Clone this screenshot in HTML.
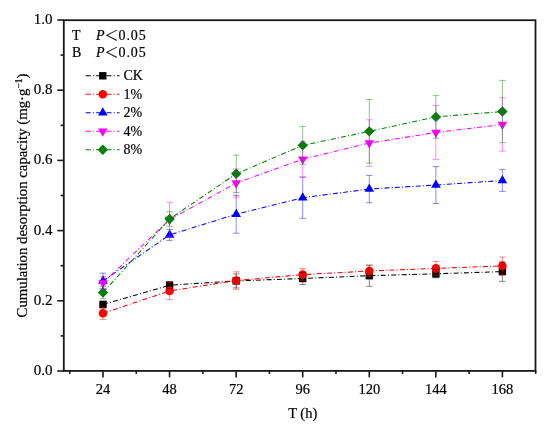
<!DOCTYPE html>
<html><head><meta charset="utf-8"><title>Cumulation desorption capacity</title>
<style>
html,body{margin:0;padding:0;background:#fff;}
body{width:550px;height:434px;overflow:hidden;}
svg{display:block;}
text{font-family:"Liberation Serif","Times New Roman",serif;fill:#000;font-size:15px;stroke:#000;stroke-width:0.2px;}
.xl{font-size:14.5px;}
.lg{font-size:14px;}
.pt{font-size:14px;}
.ti{font-size:14.5px;}
.yt{font-size:14.8px;}
</style></head>
<body>
<svg width="550" height="434" viewBox="0 0 550 434">
<rect width="550" height="434" fill="#fff"/>
<polyline points="103.00,304.50 169.60,285.20 236.20,280.90 302.70,278.50 369.30,275.70 435.90,273.80 502.40,271.60" stroke="#000000" stroke-width="1.05" stroke-dasharray="5 2.2 1 2.2" fill="none"/>
<polyline points="103.00,313.30 169.60,290.90 236.20,280.55 302.70,274.60 369.30,271.00 435.90,268.40 502.40,265.90" stroke="#ff0000" stroke-width="1.05" stroke-dasharray="5 2.2 1 2.2" fill="none"/>
<polyline points="103.00,280.90 169.60,234.90 236.20,214.25 302.70,197.70 369.30,189.05 435.90,185.05 502.40,180.50" stroke="#0000ff" stroke-width="1.05" stroke-dasharray="5 2.2 1 2.2" fill="none"/>
<polyline points="103.00,282.90 169.60,219.60 236.20,183.10 302.70,159.20 369.30,143.05 435.90,132.50 502.40,124.45" stroke="#ff00ff" stroke-width="1.05" stroke-dasharray="5 2.2 1 2.2" fill="none"/>
<polyline points="103.00,292.60 169.60,219.00 236.20,173.80 302.70,145.35 369.30,131.35 435.90,116.90 502.40,111.55" stroke="#008000" stroke-width="1.05" stroke-dasharray="5 2.2 1 2.2" fill="none"/>
<rect x="99.30" y="300.80" width="7.4" height="7.4" fill="#000000"/>
<rect x="165.90" y="281.50" width="7.4" height="7.4" fill="#000000"/>
<rect x="232.50" y="277.20" width="7.4" height="7.4" fill="#000000"/>
<rect x="299.00" y="274.80" width="7.4" height="7.4" fill="#000000"/>
<rect x="365.60" y="272.00" width="7.4" height="7.4" fill="#000000"/>
<rect x="432.20" y="270.10" width="7.4" height="7.4" fill="#000000"/>
<rect x="498.70" y="267.90" width="7.4" height="7.4" fill="#000000"/>
<circle cx="103.00" cy="313.30" r="4.3" fill="#ff0000"/>
<circle cx="169.60" cy="290.90" r="4.3" fill="#ff0000"/>
<circle cx="236.20" cy="280.55" r="4.3" fill="#ff0000"/>
<circle cx="302.70" cy="274.60" r="4.3" fill="#ff0000"/>
<circle cx="369.30" cy="271.00" r="4.3" fill="#ff0000"/>
<circle cx="435.90" cy="268.40" r="4.3" fill="#ff0000"/>
<circle cx="502.40" cy="265.90" r="4.3" fill="#ff0000"/>
<polygon points="103.00,275.37 107.80,283.67 98.20,283.67" fill="#0000ff"/>
<polygon points="169.60,229.37 174.40,237.67 164.80,237.67" fill="#0000ff"/>
<polygon points="236.20,208.72 241.00,217.02 231.40,217.02" fill="#0000ff"/>
<polygon points="302.70,192.17 307.50,200.47 297.90,200.47" fill="#0000ff"/>
<polygon points="369.30,183.52 374.10,191.82 364.50,191.82" fill="#0000ff"/>
<polygon points="435.90,179.52 440.70,187.82 431.10,187.82" fill="#0000ff"/>
<polygon points="502.40,174.97 507.20,183.27 497.60,183.27" fill="#0000ff"/>
<polygon points="98.20,280.13 107.80,280.13 103.00,288.43" fill="#ff00ff"/>
<polygon points="164.80,216.83 174.40,216.83 169.60,225.13" fill="#ff00ff"/>
<polygon points="231.40,180.33 241.00,180.33 236.20,188.63" fill="#ff00ff"/>
<polygon points="297.90,156.43 307.50,156.43 302.70,164.73" fill="#ff00ff"/>
<polygon points="364.50,140.28 374.10,140.28 369.30,148.58" fill="#ff00ff"/>
<polygon points="431.10,129.73 440.70,129.73 435.90,138.03" fill="#ff00ff"/>
<polygon points="497.60,121.68 507.20,121.68 502.40,129.98" fill="#ff00ff"/>
<polygon points="103.00,287.40 108.20,292.60 103.00,297.80 97.80,292.60" fill="#008000"/>
<polygon points="169.60,213.80 174.80,219.00 169.60,224.20 164.40,219.00" fill="#008000"/>
<polygon points="236.20,168.60 241.40,173.80 236.20,179.00 231.00,173.80" fill="#008000"/>
<polygon points="302.70,140.15 307.90,145.35 302.70,150.55 297.50,145.35" fill="#008000"/>
<polygon points="369.30,126.15 374.50,131.35 369.30,136.55 364.10,131.35" fill="#008000"/>
<polygon points="435.90,111.70 441.10,116.90 435.90,122.10 430.70,116.90" fill="#008000"/>
<polygon points="502.40,106.35 507.60,111.55 502.40,116.75 497.20,111.55" fill="#008000"/>
<path d="M103.00 301.00V308.00M99.70 301.00H106.30M99.70 308.00H106.30" stroke="#000000" stroke-opacity="0.45" stroke-width="1" fill="none"/>
<path d="M169.60 281.70V288.70M166.30 281.70H172.90M166.30 288.70H172.90" stroke="#000000" stroke-opacity="0.45" stroke-width="1" fill="none"/>
<path d="M236.20 273.90V287.90M232.90 273.90H239.50M232.90 287.90H239.50" stroke="#000000" stroke-opacity="0.45" stroke-width="1" fill="none"/>
<path d="M302.70 272.50V284.50M299.40 272.50H306.00M299.40 284.50H306.00" stroke="#000000" stroke-opacity="0.45" stroke-width="1" fill="none"/>
<path d="M369.30 265.10V286.30M366.00 265.10H372.60M366.00 286.30H372.60" stroke="#000000" stroke-opacity="0.45" stroke-width="1" fill="none"/>
<path d="M435.90 269.80V277.80M432.60 269.80H439.20M432.60 277.80H439.20" stroke="#000000" stroke-opacity="0.45" stroke-width="1" fill="none"/>
<path d="M502.40 261.90V281.30M499.10 261.90H505.70M499.10 281.30H505.70" stroke="#000000" stroke-opacity="0.45" stroke-width="1" fill="none"/>
<path d="M103.00 307.30V319.30M99.70 307.30H106.30M99.70 319.30H106.30" stroke="#ff0000" stroke-opacity="0.45" stroke-width="1" fill="none"/>
<path d="M169.60 282.20V299.60M166.30 282.20H172.90M166.30 299.60H172.90" stroke="#ff0000" stroke-opacity="0.45" stroke-width="1" fill="none"/>
<path d="M236.20 271.80V289.30M232.90 271.80H239.50M232.90 289.30H239.50" stroke="#ff0000" stroke-opacity="0.45" stroke-width="1" fill="none"/>
<path d="M302.70 268.60V280.60M299.40 268.60H306.00M299.40 280.60H306.00" stroke="#ff0000" stroke-opacity="0.45" stroke-width="1" fill="none"/>
<path d="M369.30 265.30V276.70M366.00 265.30H372.60M366.00 276.70H372.60" stroke="#ff0000" stroke-opacity="0.45" stroke-width="1" fill="none"/>
<path d="M435.90 261.50V275.30M432.60 261.50H439.20M432.60 275.30H439.20" stroke="#ff0000" stroke-opacity="0.45" stroke-width="1" fill="none"/>
<path d="M502.40 257.00V274.80M499.10 257.00H505.70M499.10 274.80H505.70" stroke="#ff0000" stroke-opacity="0.45" stroke-width="1" fill="none"/>
<path d="M103.00 273.10V288.70M99.70 273.10H106.30M99.70 288.70H106.30" stroke="#0000ff" stroke-opacity="0.45" stroke-width="1" fill="none"/>
<path d="M169.60 229.40V240.40M166.30 229.40H172.90M166.30 240.40H172.90" stroke="#0000ff" stroke-opacity="0.45" stroke-width="1" fill="none"/>
<path d="M236.20 195.25V233.25M232.90 195.25H239.50M232.90 233.25H239.50" stroke="#0000ff" stroke-opacity="0.45" stroke-width="1" fill="none"/>
<path d="M302.70 177.10V218.30M299.40 177.10H306.00M299.40 218.30H306.00" stroke="#0000ff" stroke-opacity="0.45" stroke-width="1" fill="none"/>
<path d="M369.30 175.40V202.70M366.00 175.40H372.60M366.00 202.70H372.60" stroke="#0000ff" stroke-opacity="0.45" stroke-width="1" fill="none"/>
<path d="M435.90 166.60V203.50M432.60 166.60H439.20M432.60 203.50H439.20" stroke="#0000ff" stroke-opacity="0.45" stroke-width="1" fill="none"/>
<path d="M502.40 169.60V191.40M499.10 169.60H505.70M499.10 191.40H505.70" stroke="#0000ff" stroke-opacity="0.45" stroke-width="1" fill="none"/>
<path d="M103.00 276.50V289.30M99.70 276.50H106.30M99.70 289.30H106.30" stroke="#ff00ff" stroke-opacity="0.45" stroke-width="1" fill="none"/>
<path d="M169.60 202.30V236.90M166.30 202.30H172.90M166.30 236.90H172.90" stroke="#ff00ff" stroke-opacity="0.45" stroke-width="1" fill="none"/>
<path d="M236.20 169.00V197.20M232.90 169.00H239.50M232.90 197.20H239.50" stroke="#ff00ff" stroke-opacity="0.45" stroke-width="1" fill="none"/>
<path d="M302.70 141.30V177.10M299.40 141.30H306.00M299.40 177.10H306.00" stroke="#ff00ff" stroke-opacity="0.45" stroke-width="1" fill="none"/>
<path d="M369.30 119.80V166.30M366.00 119.80H372.60M366.00 166.30H372.60" stroke="#ff00ff" stroke-opacity="0.45" stroke-width="1" fill="none"/>
<path d="M435.90 105.40V159.60M432.60 105.40H439.20M432.60 159.60H439.20" stroke="#ff00ff" stroke-opacity="0.45" stroke-width="1" fill="none"/>
<path d="M502.40 97.70V151.20M499.10 97.70H505.70M499.10 151.20H505.70" stroke="#ff00ff" stroke-opacity="0.45" stroke-width="1" fill="none"/>
<path d="M103.00 286.60V298.60M99.70 286.60H106.30M99.70 298.60H106.30" stroke="#008000" stroke-opacity="0.45" stroke-width="1" fill="none"/>
<path d="M169.60 211.75V226.25M166.30 211.75H172.90M166.30 226.25H172.90" stroke="#008000" stroke-opacity="0.45" stroke-width="1" fill="none"/>
<path d="M236.20 155.10V192.50M232.90 155.10H239.50M232.90 192.50H239.50" stroke="#008000" stroke-opacity="0.45" stroke-width="1" fill="none"/>
<path d="M302.70 126.35V164.35M299.40 126.35H306.00M299.40 164.35H306.00" stroke="#008000" stroke-opacity="0.45" stroke-width="1" fill="none"/>
<path d="M369.30 99.50V163.20M366.00 99.50H372.60M366.00 163.20H372.60" stroke="#008000" stroke-opacity="0.45" stroke-width="1" fill="none"/>
<path d="M435.90 95.60V138.20M432.60 95.60H439.20M432.60 138.20H439.20" stroke="#008000" stroke-opacity="0.45" stroke-width="1" fill="none"/>
<path d="M502.40 80.40V142.70M499.10 80.40H505.70M499.10 142.70H505.70" stroke="#008000" stroke-opacity="0.45" stroke-width="1" fill="none"/>
<rect x="63.8" y="20.2" width="471.7" height="350.7" fill="none" stroke="#1a1a1a" stroke-width="1.8"/>
<path d="M57.30 371.00H63.8" stroke="#1a1a1a" stroke-width="1.6"/>
<path d="M60.60 335.90H63.8" stroke="#1a1a1a" stroke-width="1.6"/>
<path d="M57.30 300.80H63.8" stroke="#1a1a1a" stroke-width="1.6"/>
<path d="M60.60 265.70H63.8" stroke="#1a1a1a" stroke-width="1.6"/>
<path d="M57.30 230.60H63.8" stroke="#1a1a1a" stroke-width="1.6"/>
<path d="M60.60 195.50H63.8" stroke="#1a1a1a" stroke-width="1.6"/>
<path d="M57.30 160.40H63.8" stroke="#1a1a1a" stroke-width="1.6"/>
<path d="M60.60 125.30H63.8" stroke="#1a1a1a" stroke-width="1.6"/>
<path d="M57.30 90.20H63.8" stroke="#1a1a1a" stroke-width="1.6"/>
<path d="M60.60 55.10H63.8" stroke="#1a1a1a" stroke-width="1.6"/>
<path d="M57.30 20.00H63.8" stroke="#1a1a1a" stroke-width="1.6"/>
<path d="M69.72 370.9V373.90" stroke="#1a1a1a" stroke-width="1.6"/>
<path d="M103.00 370.9V377.40" stroke="#1a1a1a" stroke-width="1.6"/>
<path d="M136.28 370.9V373.90" stroke="#1a1a1a" stroke-width="1.6"/>
<path d="M169.57 370.9V377.40" stroke="#1a1a1a" stroke-width="1.6"/>
<path d="M202.85 370.9V373.90" stroke="#1a1a1a" stroke-width="1.6"/>
<path d="M236.13 370.9V377.40" stroke="#1a1a1a" stroke-width="1.6"/>
<path d="M269.42 370.9V373.90" stroke="#1a1a1a" stroke-width="1.6"/>
<path d="M302.70 370.9V377.40" stroke="#1a1a1a" stroke-width="1.6"/>
<path d="M335.98 370.9V373.90" stroke="#1a1a1a" stroke-width="1.6"/>
<path d="M369.27 370.9V377.40" stroke="#1a1a1a" stroke-width="1.6"/>
<path d="M402.55 370.9V373.90" stroke="#1a1a1a" stroke-width="1.6"/>
<path d="M435.83 370.9V377.40" stroke="#1a1a1a" stroke-width="1.6"/>
<path d="M469.12 370.9V373.90" stroke="#1a1a1a" stroke-width="1.6"/>
<path d="M502.40 370.9V377.40" stroke="#1a1a1a" stroke-width="1.6"/>
<path d="M535.68 370.9V373.90" stroke="#1a1a1a" stroke-width="1.6"/>
<text x="52.6" y="374.90" text-anchor="end">0.0</text>
<text x="52.6" y="304.70" text-anchor="end">0.2</text>
<text x="52.6" y="234.50" text-anchor="end">0.4</text>
<text x="52.6" y="164.30" text-anchor="end">0.6</text>
<text x="52.6" y="94.10" text-anchor="end">0.8</text>
<text x="52.6" y="23.90" text-anchor="end">1.0</text>
<text x="103.00" y="394" text-anchor="middle" class="xl">24</text>
<text x="169.60" y="394" text-anchor="middle" class="xl">48</text>
<text x="236.20" y="394" text-anchor="middle" class="xl">72</text>
<text x="302.70" y="394" text-anchor="middle" class="xl">96</text>
<text x="369.30" y="394" text-anchor="middle" class="xl">120</text>
<text x="435.90" y="394" text-anchor="middle" class="xl">144</text>
<text x="502.40" y="394" text-anchor="middle" class="xl">168</text>
<text x="72" y="39.8" class="pt">T</text>
<text x="96" y="39.8" class="pt"><tspan font-style="italic">P</tspan><tspan font-family="'Liberation Serif','Noto Serif CJK SC',serif">＜</tspan><tspan letter-spacing="0.9">0.05</tspan></text>
<text x="72" y="57.3" class="pt">B</text>
<text x="96" y="57.3" class="pt"><tspan font-style="italic">P</tspan><tspan font-family="'Liberation Serif','Noto Serif CJK SC',serif">＜</tspan><tspan letter-spacing="0.9">0.05</tspan></text>
<path d="M85.7 75.80H119.5" stroke="#000000" stroke-width="1.1" stroke-dasharray="5 2.2 1 2.2" fill="none"/>
<rect x="99.10" y="72.10" width="7.4" height="7.4" fill="#000000"/>
<text x="123.5" y="80.40" class="lg">CK</text>
<path d="M85.7 94.30H119.5" stroke="#ff0000" stroke-width="1.1" stroke-dasharray="5 2.2 1 2.2" fill="none"/>
<circle cx="102.80" cy="94.30" r="4.3" fill="#ff0000"/>
<text x="123.5" y="98.90" class="lg">1%</text>
<path d="M85.7 112.80H119.5" stroke="#0000ff" stroke-width="1.1" stroke-dasharray="5 2.2 1 2.2" fill="none"/>
<polygon points="102.80,107.27 107.60,115.57 98.00,115.57" fill="#0000ff"/>
<text x="123.5" y="117.40" class="lg">2%</text>
<path d="M85.7 131.30H119.5" stroke="#ff00ff" stroke-width="1.1" stroke-dasharray="5 2.2 1 2.2" fill="none"/>
<polygon points="98.00,128.53 107.60,128.53 102.80,136.83" fill="#ff00ff"/>
<text x="123.5" y="135.90" class="lg">4%</text>
<path d="M85.7 149.80H119.5" stroke="#008000" stroke-width="1.1" stroke-dasharray="5 2.2 1 2.2" fill="none"/>
<polygon points="102.80,144.60 108.00,149.80 102.80,155.00 97.60,149.80" fill="#008000"/>
<text x="123.5" y="154.40" class="lg">8%</text>
<text x="302.7" y="418.3" text-anchor="middle" class="ti">T (h)</text>
<text transform="translate(27 195.5) rotate(-90)" text-anchor="middle" class="yt">Cumulation desorption capacity (mg·g<tspan dy="-5" font-size="9.5">−1</tspan><tspan dy="5">)</tspan></text>
</svg>
</body></html>
